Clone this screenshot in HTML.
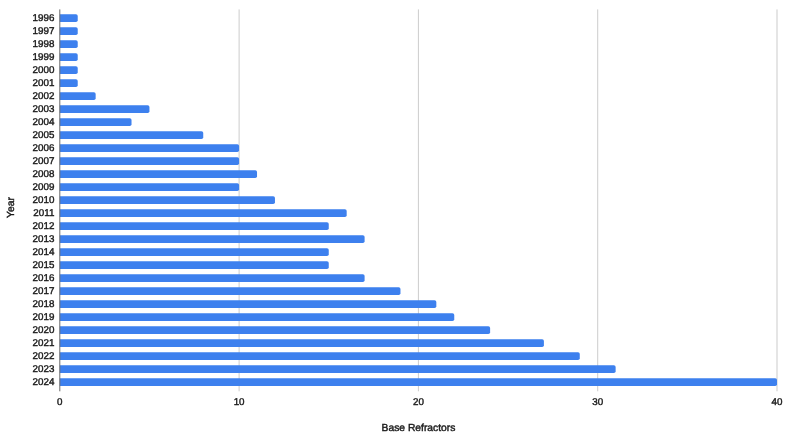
<!DOCTYPE html><html><head><meta charset="utf-8"><style>html,body{margin:0;padding:0;background:#fff;}svg{display:block;will-change:transform;}text{font-family:"Liberation Sans",sans-serif;stroke:#1a1a1a;stroke-width:0.42px;text-rendering:geometricPrecision;}</style></head><body>
<svg width="800" height="442" viewBox="0 0 800 442">
<rect width="800" height="442" fill="#fff"/>
<rect x="238.60" y="9.40" width="1" height="381.90" fill="#cccccc"/>
<rect x="417.90" y="9.40" width="1" height="381.90" fill="#cccccc"/>
<rect x="597.20" y="9.40" width="1" height="381.90" fill="#cccccc"/>
<rect x="776.50" y="9.40" width="1" height="381.90" fill="#cccccc"/>
<path d="M59.80 14.20H75.93Q77.73 14.20 77.73 16.00V20.30Q77.73 22.10 75.93 22.10H59.80Z" fill="#3d80ee"/>
<text x="54.40" y="20.90" font-size="9.8" text-anchor="end" fill="#1a1a1a">1996</text>
<path d="M59.80 27.20H75.93Q77.73 27.20 77.73 29.00V33.30Q77.73 35.10 75.93 35.10H59.80Z" fill="#3d80ee"/>
<text x="54.40" y="33.90" font-size="9.8" text-anchor="end" fill="#1a1a1a">1997</text>
<path d="M59.80 40.20H75.93Q77.73 40.20 77.73 42.00V46.30Q77.73 48.10 75.93 48.10H59.80Z" fill="#3d80ee"/>
<text x="54.40" y="46.90" font-size="9.8" text-anchor="end" fill="#1a1a1a">1998</text>
<path d="M59.80 53.20H75.93Q77.73 53.20 77.73 55.00V59.30Q77.73 61.10 75.93 61.10H59.80Z" fill="#3d80ee"/>
<text x="54.40" y="59.90" font-size="9.8" text-anchor="end" fill="#1a1a1a">1999</text>
<path d="M59.80 66.20H75.93Q77.73 66.20 77.73 68.00V72.30Q77.73 74.10 75.93 74.10H59.80Z" fill="#3d80ee"/>
<text x="54.40" y="72.90" font-size="9.8" text-anchor="end" fill="#1a1a1a">2000</text>
<path d="M59.80 79.20H75.93Q77.73 79.20 77.73 81.00V85.30Q77.73 87.10 75.93 87.10H59.80Z" fill="#3d80ee"/>
<text x="54.40" y="85.90" font-size="9.8" text-anchor="end" fill="#1a1a1a">2001</text>
<path d="M59.80 92.20H93.86Q95.66 92.20 95.66 94.00V98.30Q95.66 100.10 93.86 100.10H59.80Z" fill="#3d80ee"/>
<text x="54.40" y="98.90" font-size="9.8" text-anchor="end" fill="#1a1a1a">2002</text>
<path d="M59.80 105.20H147.65Q149.45 105.20 149.45 107.00V111.30Q149.45 113.10 147.65 113.10H59.80Z" fill="#3d80ee"/>
<text x="54.40" y="111.90" font-size="9.8" text-anchor="end" fill="#1a1a1a">2003</text>
<path d="M59.80 118.20H129.72Q131.52 118.20 131.52 120.00V124.30Q131.52 126.10 129.72 126.10H59.80Z" fill="#3d80ee"/>
<text x="54.40" y="124.90" font-size="9.8" text-anchor="end" fill="#1a1a1a">2004</text>
<path d="M59.80 131.20H201.44Q203.24 131.20 203.24 133.00V137.30Q203.24 139.10 201.44 139.10H59.80Z" fill="#3d80ee"/>
<text x="54.40" y="137.90" font-size="9.8" text-anchor="end" fill="#1a1a1a">2005</text>
<path d="M59.80 144.20H237.30Q239.10 144.20 239.10 146.00V150.30Q239.10 152.10 237.30 152.10H59.80Z" fill="#3d80ee"/>
<text x="54.40" y="150.90" font-size="9.8" text-anchor="end" fill="#1a1a1a">2006</text>
<path d="M59.80 157.20H237.30Q239.10 157.20 239.10 159.00V163.30Q239.10 165.10 237.30 165.10H59.80Z" fill="#3d80ee"/>
<text x="54.40" y="163.90" font-size="9.8" text-anchor="end" fill="#1a1a1a">2007</text>
<path d="M59.80 170.20H255.23Q257.03 170.20 257.03 172.00V176.30Q257.03 178.10 255.23 178.10H59.80Z" fill="#3d80ee"/>
<text x="54.40" y="176.90" font-size="9.8" text-anchor="end" fill="#1a1a1a">2008</text>
<path d="M59.80 183.20H237.30Q239.10 183.20 239.10 185.00V189.30Q239.10 191.10 237.30 191.10H59.80Z" fill="#3d80ee"/>
<text x="54.40" y="189.90" font-size="9.8" text-anchor="end" fill="#1a1a1a">2009</text>
<path d="M59.80 196.20H273.16Q274.96 196.20 274.96 198.00V202.30Q274.96 204.10 273.16 204.10H59.80Z" fill="#3d80ee"/>
<text x="54.40" y="202.90" font-size="9.8" text-anchor="end" fill="#1a1a1a">2010</text>
<path d="M59.80 209.20H344.88Q346.68 209.20 346.68 211.00V215.30Q346.68 217.10 344.88 217.10H59.80Z" fill="#3d80ee"/>
<text x="54.40" y="215.90" font-size="9.8" text-anchor="end" fill="#1a1a1a">2011</text>
<path d="M59.80 222.20H326.95Q328.75 222.20 328.75 224.00V228.30Q328.75 230.10 326.95 230.10H59.80Z" fill="#3d80ee"/>
<text x="54.40" y="228.90" font-size="9.8" text-anchor="end" fill="#1a1a1a">2012</text>
<path d="M59.80 235.20H362.81Q364.61 235.20 364.61 237.00V241.30Q364.61 243.10 362.81 243.10H59.80Z" fill="#3d80ee"/>
<text x="54.40" y="241.90" font-size="9.8" text-anchor="end" fill="#1a1a1a">2013</text>
<path d="M59.80 248.20H326.95Q328.75 248.20 328.75 250.00V254.30Q328.75 256.10 326.95 256.10H59.80Z" fill="#3d80ee"/>
<text x="54.40" y="254.90" font-size="9.8" text-anchor="end" fill="#1a1a1a">2014</text>
<path d="M59.80 261.20H326.95Q328.75 261.20 328.75 263.00V267.30Q328.75 269.10 326.95 269.10H59.80Z" fill="#3d80ee"/>
<text x="54.40" y="267.90" font-size="9.8" text-anchor="end" fill="#1a1a1a">2015</text>
<path d="M59.80 274.20H362.81Q364.61 274.20 364.61 276.00V280.30Q364.61 282.10 362.81 282.10H59.80Z" fill="#3d80ee"/>
<text x="54.40" y="280.90" font-size="9.8" text-anchor="end" fill="#1a1a1a">2016</text>
<path d="M59.80 287.20H398.67Q400.47 287.20 400.47 289.00V293.30Q400.47 295.10 398.67 295.10H59.80Z" fill="#3d80ee"/>
<text x="54.40" y="293.90" font-size="9.8" text-anchor="end" fill="#1a1a1a">2017</text>
<path d="M59.80 300.20H434.53Q436.33 300.20 436.33 302.00V306.30Q436.33 308.10 434.53 308.10H59.80Z" fill="#3d80ee"/>
<text x="54.40" y="306.90" font-size="9.8" text-anchor="end" fill="#1a1a1a">2018</text>
<path d="M59.80 313.20H452.46Q454.26 313.20 454.26 315.00V319.30Q454.26 321.10 452.46 321.10H59.80Z" fill="#3d80ee"/>
<text x="54.40" y="319.90" font-size="9.8" text-anchor="end" fill="#1a1a1a">2019</text>
<path d="M59.80 326.20H488.32Q490.12 326.20 490.12 328.00V332.30Q490.12 334.10 488.32 334.10H59.80Z" fill="#3d80ee"/>
<text x="54.40" y="332.90" font-size="9.8" text-anchor="end" fill="#1a1a1a">2020</text>
<path d="M59.80 339.20H542.11Q543.91 339.20 543.91 341.00V345.30Q543.91 347.10 542.11 347.10H59.80Z" fill="#3d80ee"/>
<text x="54.40" y="345.90" font-size="9.8" text-anchor="end" fill="#1a1a1a">2021</text>
<path d="M59.80 352.20H577.97Q579.77 352.20 579.77 354.00V358.30Q579.77 360.10 577.97 360.10H59.80Z" fill="#3d80ee"/>
<text x="54.40" y="358.90" font-size="9.8" text-anchor="end" fill="#1a1a1a">2022</text>
<path d="M59.80 365.20H613.83Q615.63 365.20 615.63 367.00V371.30Q615.63 373.10 613.83 373.10H59.80Z" fill="#3d80ee"/>
<text x="54.40" y="371.90" font-size="9.8" text-anchor="end" fill="#1a1a1a">2023</text>
<path d="M59.80 378.20H775.20Q777.00 378.20 777.00 380.00V384.30Q777.00 386.10 775.20 386.10H59.80Z" fill="#3d80ee"/>
<text x="54.40" y="384.90" font-size="9.8" text-anchor="end" fill="#1a1a1a">2024</text>
<rect x="59.30" y="9.40" width="1" height="381.90" fill="#6a6a6a"/>
<text x="59.80" y="404.50" font-size="9.8" text-anchor="middle" fill="#1a1a1a">0</text>
<text x="239.10" y="404.50" font-size="9.8" text-anchor="middle" fill="#1a1a1a">10</text>
<text x="418.40" y="404.50" font-size="9.8" text-anchor="middle" fill="#1a1a1a">20</text>
<text x="597.70" y="404.50" font-size="9.8" text-anchor="middle" fill="#1a1a1a">30</text>
<text x="777.00" y="404.50" font-size="9.8" text-anchor="middle" fill="#1a1a1a">40</text>
<text x="418.50" y="430.60" font-size="10.3" text-anchor="middle" fill="#1a1a1a">Base Refractors</text>
<text transform="translate(14.10,207.50) rotate(-90)" font-size="10.3" text-anchor="middle" fill="#1a1a1a">Year</text>
</svg></body></html>
